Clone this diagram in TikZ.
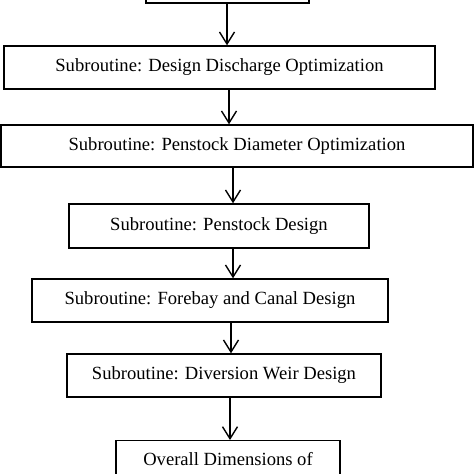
\documentclass[tikz,border=0pt]{standalone}
\usepackage{fontspec}
\setmainfont{Liberation Serif}
\usetikzlibrary{arrows.meta}
\begin{document}
\begin{tikzpicture}[x=1pt,y=-1pt,
  txt/.style={font=\fontsize{18.6}{22}\selectfont},
  box/.style={draw,line width=1.4pt,inner sep=0pt,align=center,txt},
  arr/.style={line width=1.5pt,-{Straight Barb[length=12pt,width=15pt,line width=1.4pt]}}]
\useasboundingbox (0,0) rectangle (474,474);
\begin{scope}
\clip (0,0) rectangle (474,474);
\node[box,minimum width=163pt,minimum height=40pt] (top) at (227.5,-17) {};
\node[box,minimum width=431pt,minimum height=43pt] (b1) at (219.5,67.5) {Subroutine: Design Discharge Optimization};
\node[box,minimum width=472pt,minimum height=42pt] (b2) at (237,146) {Subroutine: Penstock Diameter Optimization};
\node[box,minimum width=300pt,minimum height=44pt] (b3) at (219,226) {Subroutine: Penstock Design};
\node[box,minimum width=356pt,minimum height=43pt] (b4) at (210,300.5) {Subroutine: Forebay and Canal Design};
\node[box,minimum width=314pt,minimum height=43pt] (b5) at (224,375.5) {Subroutine: Diversion Weir Design};
\node[box,minimum width=224pt,minimum height=70pt,anchor=north] (b6) at (228,440) {};
\node[txt,anchor=base] (t6) at (228,465) {Overall Dimensions of};
\coordinate (x0) at (227,0);
\coordinate (x1) at (229,0);
\coordinate (x2) at (233,0);
\coordinate (x3) at (233,0);
\coordinate (x4) at (231,0);
\coordinate (x5) at (230,0);
\draw[arr] (top.south -| x0) -- (b1.north -| x0);
\draw[arr] (b1.south -| x1) -- (b2.north -| x1);
\draw[arr] (b2.south -| x2) -- (b3.north -| x2);
\draw[arr] (b3.south -| x3) -- (b4.north -| x3);
\draw[arr] (b4.south -| x4) -- (b5.north -| x4);
\draw[arr] (b5.south -| x5) -- (b6.north -| x5);
\end{scope}
\end{tikzpicture}
\end{document}
